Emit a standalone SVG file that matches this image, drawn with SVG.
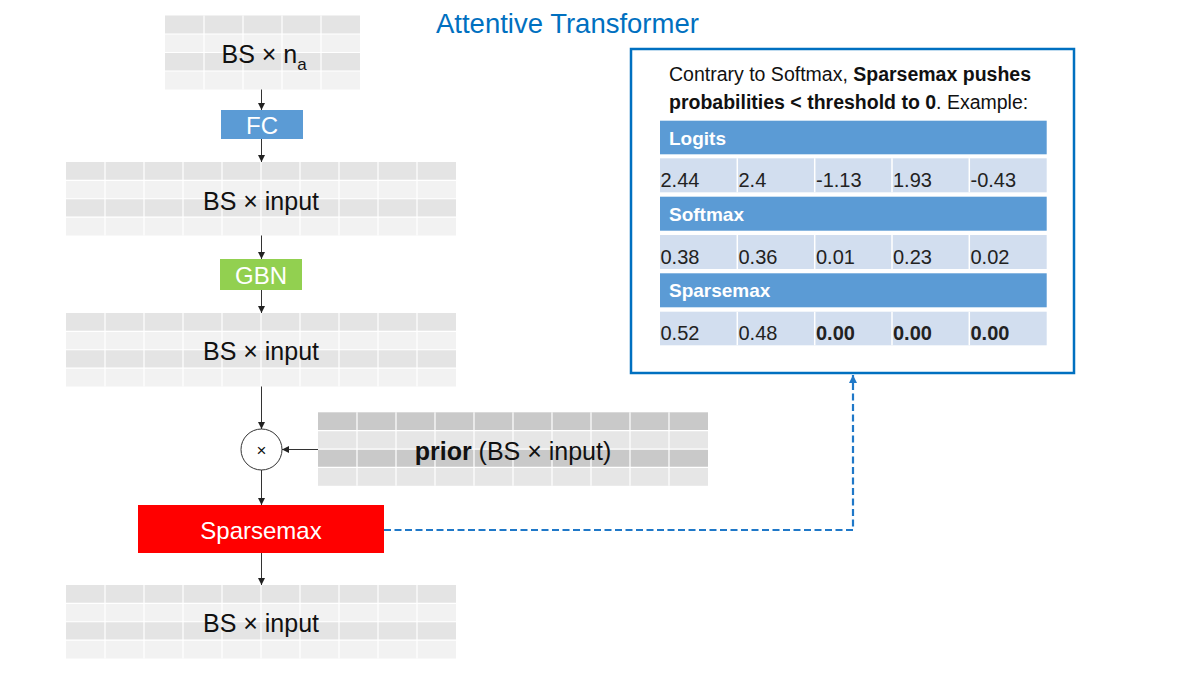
<svg xmlns="http://www.w3.org/2000/svg" xmlns:xlink="http://www.w3.org/1999/xlink" width="1200" height="675" viewBox="0 0 1200 675">
<style>
text{font-family:"Liberation Sans",Arial,sans-serif;}
.lbl{font-size:25px;fill:#111;text-anchor:middle;}
.wlbl{font-size:24px;fill:#fff;text-anchor:middle;}
.hdr{font-size:19px;fill:#fff;font-weight:bold;}
.val{font-size:20px;fill:#222;}
.b{font-weight:bold;}
.wire{stroke:#333;stroke-width:1;fill:none;}
.grid{stroke:#fff;stroke-width:1.2;fill:none;}
.sep{stroke:#fff;stroke-width:1.5;fill:none;}
</style>
<defs>
<marker id="ah" markerUnits="userSpaceOnUse" markerWidth="8" markerHeight="8" refX="7" refY="3.5" orient="auto">
<path d="M0,0L7,3.5L0,7z" fill="#222"/>
</marker>
<marker id="bah" markerUnits="userSpaceOnUse" markerWidth="9" markerHeight="9" refX="8" refY="4" orient="auto">
<path d="M0,0L8,4L0,8z" fill="#1f78c8"/>
</marker>
<g id="grid10">
<rect x="0" y="0" width="390" height="18.4"/>
<rect x="0" y="18.4" width="390" height="18.35" fill="currentColor"/>
<rect x="0" y="36.75" width="390" height="18.35"/>
<rect x="0" y="55.1" width="390" height="18.4" fill="currentColor"/>
<path class="grid" d="M39,0V73.5M78,0V73.5M117,0V73.5M156,0V73.5M195,0V73.5M234,0V73.5M273,0V73.5M312,0V73.5M351,0V73.5M0,18.4H390M0,36.75H390M0,55.1H390"/>
</g>
<g id="grid5">
<rect x="0" y="0" width="195" height="18.5"/>
<rect x="0" y="18.5" width="195" height="18.5" fill="currentColor"/>
<rect x="0" y="37" width="195" height="18.5"/>
<rect x="0" y="55.5" width="195" height="18.5" fill="currentColor"/>
<path class="grid" d="M39,0V74M78,0V74M117,0V74M156,0V74M0,18.5H195M0,37H195M0,55.5H195"/>
</g>
</defs>

<rect width="1200" height="675" fill="#fff"/>

<text id="title" x="436" y="32.5" font-size="27.5" fill="#0070c0">Attentive Transformer</text>

<g id="t_na">
<use xlink:href="#grid5" x="165" y="15.5" fill="#e4e4e4" color="#f2f2f2"/>
<text x="221.5" y="62.5" font-size="25" fill="#111">BS × n<tspan font-size="17" dy="7">a</tspan></text>
</g>

<g id="fc">
<rect x="221" y="110" width="82" height="29" fill="#5b9bd5"/>
<text class="wlbl" x="262" y="133.5">FC</text>
</g>

<g id="t_in1">
<use xlink:href="#grid10" x="66" y="162" fill="#e4e4e4" color="#f2f2f2"/>
<text class="lbl" x="261" y="209.5">BS × input</text>
</g>

<g id="gbn">
<rect x="220" y="259" width="82" height="31" fill="#92d050"/>
<text class="wlbl" x="261" y="283.5">GBN</text>
</g>

<g id="t_in2">
<use xlink:href="#grid10" x="66" y="313" fill="#e4e4e4" color="#f2f2f2"/>
<text class="lbl" x="261" y="360">BS × input</text>
</g>

<g id="mult">
<circle cx="261.5" cy="449.5" r="20.5" fill="#fff" stroke="#333" stroke-width="1"/>
<text x="261.5" y="455.5" font-size="17" fill="#111" text-anchor="middle">×</text>
</g>

<g id="prior">
<use xlink:href="#grid10" x="318" y="412.3" fill="#c9c9c9" color="#e6e6e6"/>
<text class="lbl" x="513" y="459.5" font-size="26"><tspan class="b">prior</tspan> (BS × input)</text>
</g>

<g id="sparsemax">
<rect x="138" y="505" width="246" height="48" fill="#ff0000"/>
<text class="wlbl" x="261" y="539" font-size="25">Sparsemax</text>
</g>

<g id="t_out">
<use xlink:href="#grid10" x="66" y="585" fill="#e4e4e4" color="#f2f2f2"/>
<text class="lbl" x="261" y="632">BS × input</text>
</g>

<g id="note">
<rect x="631" y="49" width="443" height="324" fill="#fff" stroke="#0070c0" stroke-width="2.5"/>
<text x="669" y="81" font-size="19.5" fill="#111">Contrary to Softmax, <tspan class="b">Sparsemax pushes</tspan></text>
<text x="669" y="108.5" font-size="19.5" fill="#111"><tspan class="b">probabilities &lt; threshold to 0</tspan>. Example:</text>

<rect x="660" y="120.7" width="386.7" height="33.6" fill="#5b9bd5"/>
<text class="hdr" x="669" y="145.3">Logits</text>
<rect x="660" y="158.3" width="386.7" height="34" fill="#d2deef"/>
<rect x="660" y="196.7" width="386.7" height="34" fill="#5b9bd5"/>
<text class="hdr" x="669" y="220.7">Softmax</text>
<rect x="660" y="235" width="386.7" height="34" fill="#d2deef"/>
<rect x="660" y="273.3" width="386.7" height="34" fill="#5b9bd5"/>
<text class="hdr" x="669" y="297.3">Sparsemax</text>
<rect x="660" y="311.7" width="386.7" height="33.6" fill="#d2deef"/>
<path class="sep" d="M737.3,158.3V192.3M814.7,158.3V192.3M892,158.3V192.3M969.3,158.3V192.3M737.3,235V269M814.7,235V269M892,235V269M969.3,235V269M737.3,311.7V345.3M814.7,311.7V345.3M892,311.7V345.3M969.3,311.7V345.3"/>

<text class="val" x="660.5" y="187">2.44</text>
<text class="val" x="738.5" y="187">2.4</text>
<text class="val" x="816" y="187">-1.13</text>
<text class="val" x="893" y="187">1.93</text>
<text class="val" x="970.5" y="187">-0.43</text>

<text class="val" x="660.5" y="263.5">0.38</text>
<text class="val" x="738.5" y="263.5">0.36</text>
<text class="val" x="816" y="263.5">0.01</text>
<text class="val" x="893" y="263.5">0.23</text>
<text class="val" x="970.5" y="263.5">0.02</text>

<text class="val" x="660.5" y="339.5">0.52</text>
<text class="val" x="738.5" y="339.5">0.48</text>
<text class="val b" x="816" y="339.5">0.00</text>
<text class="val b" x="893" y="339.5">0.00</text>
<text class="val b" x="970.5" y="339.5">0.00</text>
</g>

<g id="connectors">
<path class="wire" d="M261.5,89.5V110" marker-end="url(#ah)"/>
<path class="wire" d="M261.5,139V162" marker-end="url(#ah)"/>
<path class="wire" d="M261.5,235.5V259" marker-end="url(#ah)"/>
<path class="wire" d="M261.5,290V313" marker-end="url(#ah)"/>
<path class="wire" d="M261.5,386.5V429" marker-end="url(#ah)"/>
<path class="wire" d="M318,449.5H282" marker-end="url(#ah)"/>
<path class="wire" d="M261.5,470V505" marker-end="url(#ah)"/>
<path class="wire" d="M261.5,553V585" marker-end="url(#ah)"/>
<path d="M384,530H853V375" fill="none" stroke="#1f78c8" stroke-width="2.2" stroke-dasharray="7 3.5" marker-end="url(#bah)"/>
</g>
</svg>
